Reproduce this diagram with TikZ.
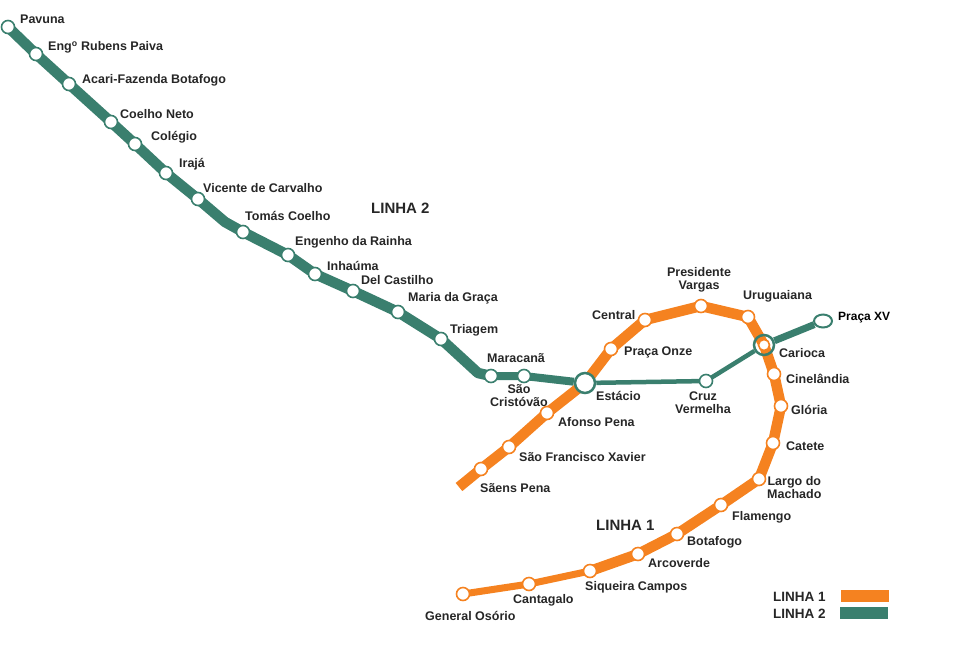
\documentclass[tikz,border=0pt]{standalone}
\usepackage{fontspec}
\setmainfont{Liberation Sans}
\usetikzlibrary{backgrounds,shapes.geometric}
\definecolor{laranja}{HTML}{F58220}
\definecolor{verde}{HTML}{3A7F6E}
\definecolor{texto}{HTML}{262626}
\tikzset{
	linha1/.style={draw=laranja,line width=10.5pt,line join=round},
	linha2/.style={draw=verde,line width=10.5pt,line join=round},
	estacao1/.style={circle,draw=laranja,line width=1.6pt,fill=white,inner sep=0pt,minimum size=13pt},
	estacao2/.style={circle,draw=verde,line width=1.6pt,fill=white,inner sep=0pt,minimum size=13pt},
	rotulo/.style={anchor=west,inner sep=0pt,yshift=-0.7pt,text=texto,font=\bfseries\fontsize{12.5}{13.5}\selectfont},
	rotuloc/.style={rotulo,anchor=center,align=center},
	titulo/.style={rotulo,font=\bfseries\fontsize{15}{16}\selectfont},
	legenda/.style={rotulo,font=\bfseries\fontsize{13.5}{15}\selectfont},
}

\begin{document}
\begin{tikzpicture}[x=1pt,y=-1pt]
		\useasboundingbox (0,0) rectangle (960,665);
		%%%%% LINHA 1 %%%%%
		\coordinate (inicio) at (459,487);
		\node[estacao1] (saens) at (481,469) {};
		\node[estacao1] (xavier) at (509,447) {};
		\node[estacao1] (afonso) at (547,413) {};
		\node[estacao1] (onze) at (611,349) {};
		\node[estacao1] (central) at (645,320) {};
		\node[estacao1] (vargas) at (701,306) {};
		\node[estacao1] (uruguaiana) at (748,317) {};
		\node[estacao1] (cinelandia) at (774,374) {};
		\node[estacao1] (gloria) at (781,406) {};
		\node[estacao1] (catete) at (773,443) {};
		\node[estacao1] (largo) at (759,479) {};
		\node[estacao1] (flamengo) at (721,505) {};
		\node[estacao1] (botafogo) at (677,534) {};
		\node[estacao1] (arcoverde) at (638,554) {};
		\node[estacao1] (siqueira) at (590,571) {};
		\node[estacao1] (cantagalo) at (529,584) {};
		\node[estacao1] (osorio) at (463,594) {};
		%%%%% LINHA 2 %%%%%
		\node[estacao2] (pavuna) at (8,27) {};
		\node[estacao2] (rubens) at (36,54) {};
		\node[estacao2] (acari) at (69,84) {};
		\node[estacao2] (coelho) at (111,122) {};
		\node[estacao2] (colegio) at (135,144) {};
		\node[estacao2] (iraja) at (166,173) {};
		\node[estacao2] (vicente) at (198,199) {};
		\coordinate (curva) at (225,222);
		\node[estacao2] (tomas) at (243,232) {};
		\node[estacao2] (engenho) at (288,255) {};
		\node[estacao2] (inhauma) at (315,274) {};
		\node[estacao2] (castilho) at (353,291) {};
		\node[estacao2] (graca) at (398,312) {};
		\node[estacao2] (triagem) at (441,339) {};
		\coordinate (curvab) at (478,373);
		\node[estacao2] (maracana) at (491,376) {};
		\node[estacao2] (cristovao) at (524,376) {};
		\node[estacao2] (cruz) at (706,381) {};
		\node[estacao2,ellipse,line width=2pt,minimum width=18pt,minimum height=13pt] (xv) at (823,321) {};
		%%%%% BALDEACAO %%%%%
		\node[estacao2,line width=2.5pt,minimum size=20pt] (estacio) at (585,383) {};
		\node[estacao1,minimum size=11pt] (carioca) at (764,345) {};
		\node[circle,draw=verde,line width=2.5pt,inner sep=0pt,minimum size=20pt] (anel) at (764,345) {};
		%%%%% TRILHOS %%%%%
		\begin{scope}[on background layer]
			\draw[linha2] (pavuna.center) -- (rubens.center) -- (acari.center) -- (coelho.center) -- (colegio.center) -- (iraja.center) -- (vicente.center) -- (curva) -- (tomas.center) -- (engenho.center) -- (inhauma.center) -- (castilho.center) -- (graca.center) -- (triagem.center) -- (curvab) -- (maracana.center);
			\draw[linha2,line width=8pt] (maracana.center) -- (cristovao.center) -- (estacio);
			\draw[linha1] (inicio) -- (saens.center) -- (xavier.center) -- (afonso.center) -- (estacio.center) -- (onze.center) -- (central.center) -- (vargas.center) -- (uruguaiana.center) -- (carioca.center) -- (cinelandia.center) -- (gloria.center) -- (catete.center) -- (largo.center) -- (flamengo.center) -- (botafogo.center) -- (arcoverde.center) -- (siqueira.center);
			\draw[linha1,line width=7pt] (siqueira.center) -- (cantagalo.center) -- (osorio.center);
			\draw[linha2,line width=4.5pt] (estacio) -- (cruz.center) -- (anel);
			\draw[linha2,line width=7pt] (anel) -- (xv);
		\end{scope}
		%%%%% ROTULOS %%%%%
		\node[rotulo] (tpavuna) at (20,19) {Pavuna};
		\node[rotulo] (trubens) at (48,47) {Eng\textsuperscript{o} Rubens Paiva};
		\node[rotulo] (tacari) at (82,80) {Acari-Fazenda Botafogo};
		\node[rotulo] (tcoelho) at (120,113) {Coelho Neto};
		\node[rotulo] (tcolegio) at (151,137) {Colégio};
		\node[rotulo] (tiraja) at (179,164) {Irajá};
		\node[rotulo] (tvicente) at (203,187) {Vicente de Carvalho};
		\node[rotulo] (ttomas) at (245,215) {Tomás Coelho};
		\node[rotulo] (tengenho) at (295,242) {Engenho da Rainha};
		\node[rotulo] (tinhauma) at (327,265) {Inhaúma};
		\node[rotulo] (tcastilho) at (361,279) {Del Castilho};
		\node[rotulo] (tgraca) at (408,298) {Maria da Graça};
		\node[rotulo] (ttriagem) at (450,330) {Triagem};
		\node[rotulo] (tmaracana) at (487,357) {Maracanã};
		\node[rotuloc] (tcristovao) at (519,395) {São\\Cristóvão};
		\node[rotulo] (testacio) at (596,395) {Estácio};
		\node[rotulo] (tafonso) at (558,421) {Afonso Pena};
		\node[rotulo] (txavier) at (519,456) {São Francisco Xavier};
		\node[rotulo] (tsaens) at (480,487) {Sãens Pena};
		\node[rotulo] (tonze) at (624,352) {Praça Onze};
		\node[rotulo] (tcentral) at (592,314) {Central};
		\node[rotuloc] (tvargas) at (699,279) {Presidente\\Vargas};
		\node[rotulo] (turuguaiana) at (743,296) {Uruguaiana};
		\node[rotulo,text=black,font=\bfseries\fontsize{12}{13.5}\selectfont] (txv) at (838,317) {Praça XV};
		\node[rotulo] (tcarioca) at (779,352) {Carioca};
		\node[rotulo] (tcinelandia) at (786,378) {Cinelândia};
		\node[rotulo] (tgloria) at (791,409) {Glória};
		\node[rotulo] (tcatete) at (786,445) {Catete};
		\node[rotulo,align=center] (tlargo) at (767,487) {Largo do\\Machado};
		\node[rotulo] (tflamengo) at (732,517) {Flamengo};
		\node[rotulo] (tbotafogo) at (687,542) {Botafogo};
		\node[rotulo] (tarcoverde) at (648,562) {Arcoverde};
		\node[rotulo] (tsiqueira) at (585,587) {Siqueira Campos};
		\node[rotulo] (tcantagalo) at (513,600) {Cantagalo};
		\node[rotulo] (tosorio) at (425,615) {General Osório};
		\node[rotuloc] (tcruz) at (703,402) {Cruz\\Vermelha};
		\node[titulo] (tlinha2) at (371,208) {LINHA 2};
		\node[titulo] (tlinha1) at (596,525) {LINHA 1};
		%%%%% LEGENDA %%%%%
		\node[legenda] (leg1) at (773,596) {LINHA 1};
		\node[legenda] (leg2) at (773,613) {LINHA 2};
		\fill[laranja] (841,590) rectangle (889,602);
		\fill[verde] (840,607) rectangle (888,619);
	\end{tikzpicture}
\end{document}
